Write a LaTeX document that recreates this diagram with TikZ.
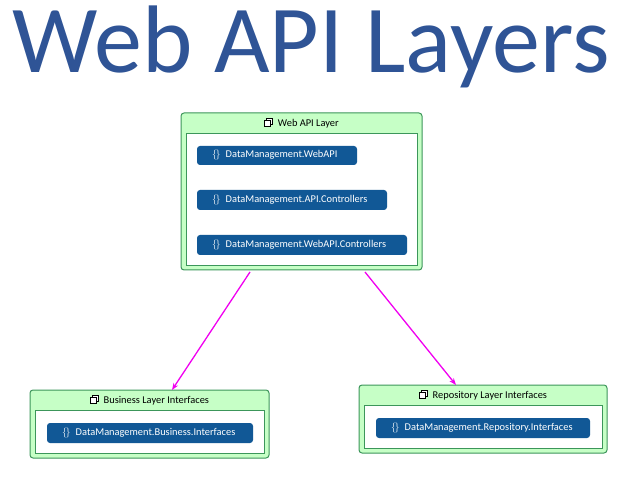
\documentclass[tikz,border=0pt]{standalone}
\usepackage{fontspec}
\setmainfont{Carlito}
\usetikzlibrary{positioning,arrows.meta}
\definecolor{titleblue}{RGB}{47,84,150}
\definecolor{layergreen}{RGB}{198,255,198}
\definecolor{layerline}{RGB}{60,150,90}
\definecolor{pillblue}{RGB}{17,88,150}
\definecolor{deppink}{RGB}{240,0,240}
\tikzset{
  layer/.style={draw=layerline,fill=layergreen,rounded corners=3pt,line width=1pt},
  inner/.style={draw=layerline,fill=white,line width=0.6pt},
  pill/.style={fill=pillblue,rounded corners=3pt,text=white,font=\fontsize{10.4}{11}\selectfont,anchor=west,inner sep=0pt},
  head/.style={font=\fontsize{10.4}{11}\selectfont},
  dep/.style={draw=deppink,line width=1.3pt,-{Stealth[length=7pt]}}
}
% layer icon and assembly icon
\newcommand{\lyricon}{\tikz[baseline=0pt]{\draw[fill=white,line width=0.5pt] (2pt,2pt) rectangle (8pt,8pt);\draw[fill=white,line width=0.5pt] (0,0) rectangle (6pt,6pt);}\enspace}
\newcommand{\asmicon}{$\{\!\}$\enspace}
\begin{document}
\begin{tikzpicture}[x=1pt,y=-1pt]
\useasboundingbox (0,0) rectangle (624,478);
\node[text=titleblue,font=\fontsize{96}{98}\selectfont] (title) at (311,47) {Web API Layers};

% web api layer
\draw[layer] (181,113) rectangle (422,270);
\draw[inner] (186,133) rectangle (417,265);
\node[head] (webhead) at (301.5,123) {\lyricon Web API Layer};
\fill[pill] (197,146) rectangle (357,165);
\fill[pill] (197,190) rectangle (387,210);
\fill[pill] (197,235) rectangle (407,255);
\node[pill,fill=none] (webapi) at (212,155.5) {\asmicon DataManagement.WebAPI};
\node[pill,fill=none] (apictrl) at (212,200) {\asmicon DataManagement.API.Controllers};
\node[pill,fill=none] (webctrl) at (212,245) {\asmicon DataManagement.WebAPI.Controllers};

% business layer
\draw[layer] (30,390) rectangle (269,458);
\draw[inner] (35,410) rectangle (264,453);
\node[head] (bushead) at (149.5,400) {\lyricon Business Layer Interfaces};
\fill[pill] (47,423) rectangle (253,443);
\node[pill,fill=none] (busif) at (62,433) {\asmicon DataManagement.Business.Interfaces};

% repository layer
\draw[layer] (359,385) rectangle (607,453);
\draw[inner] (364,405) rectangle (602,448);
\node[head] (rephead) at (483,395) {\lyricon Repository Layer Interfaces};
\fill[pill] (376,418) rectangle (590,438);
\node[pill,fill=none] (repif) at (391,428) {\asmicon DataManagement.Repository.Interfaces};

\coordinate (wa) at (250,272);
\coordinate (wb) at (365,272);
\coordinate (bt) at (172,390);
\coordinate (rt) at (456,385);
\draw[dep] (wa) -- (bt);
\draw[dep] (wb) -- (rt);
\end{tikzpicture}
\end{document}
